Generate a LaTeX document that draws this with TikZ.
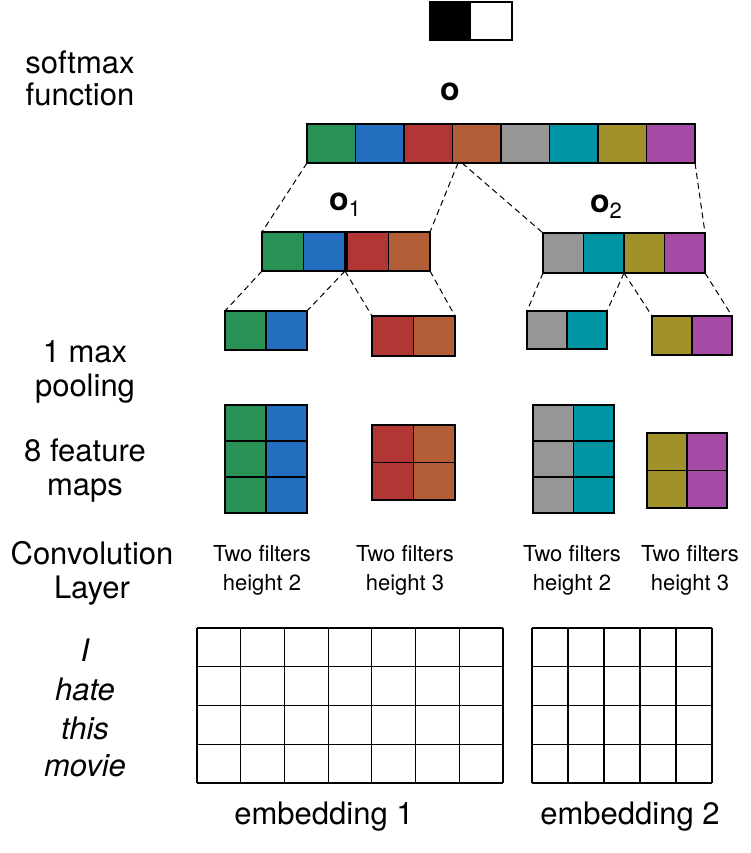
\documentclass[tikz,border=0pt]{standalone}
\usepackage{fontspec}
\setmainfont{TeX Gyre Heros}
\definecolor{cg}{RGB}{40,145,85}
\definecolor{cb}{RGB}{35,110,190}
\definecolor{cr}{RGB}{178,55,52}
\definecolor{co}{RGB}{178,95,55}
\definecolor{cy}{RGB}{150,150,150}
\definecolor{ct}{RGB}{0,148,165}
\definecolor{cl}{RGB}{160,145,42}
\definecolor{cp}{RGB}{165,75,165}
\begin{document}
\begin{tikzpicture}[x=1pt,y=-1pt,
  cell/.style={draw=black,line width=1.2pt},
  dashln/.style={line width=1pt,dash pattern=on 6pt off 4pt},
  lab/.style={font=\fontsize{31}{36}\selectfont,align=center},
  flab/.style={font=\fontsize{22}{29}\selectfont,align=center},
  it/.style={font=\fontsize{31}{36}\selectfont\itshape},
  bo/.style={font=\fontsize{32}{36}\selectfont\bfseries}]
\useasboundingbox (0,0) rectangle (751,853);
% softmax
\fill[black] (430,2) rectangle (471,40);
\draw[cell] (430,2) rectangle (512,40);
\node[lab] (sm) at (80,78) {softmax\\[-4pt]function};
\node[bo] (o) at (450,92) {o};
% big row
\foreach \c [count=\i from 0] in {cg,cb,cr,co,cy,ct,cl,cp}
  \draw[cell,fill=\c] (307+\i*48.5,124) rectangle (355.5+\i*48.5,163);
\coordinate (oL) at (307,163); \coordinate (oM1) at (458,163);
\coordinate (oM2) at (462,163); \coordinate (oR) at (695,163);
% o1
\node[bo] (o1) at (345,205) {o\textmd{\fontsize{22}{24}\selectfont\raisebox{-6pt}{1}}};
\foreach \c/\a in {cg/262,cb/303.5,cr/347,co/388.5}
  \draw[cell,fill=\c] (\a,232) rectangle (\a+41.5,271);
\coordinate (aL) at (262,232); \coordinate (aR) at (430,232);
% o2
\node[bo] (o2) at (606,207) {o\textmd{\fontsize{22}{24}\selectfont\raisebox{-6pt}{2}}};
\foreach \c [count=\i from 0] in {cy,ct,cl,cp}
  \draw[cell,fill=\c] (543+\i*40.5,233) rectangle (583.5+\i*40.5,273);
\coordinate (bL) at (543,233); \coordinate (bR) at (705,233);
\draw[dashln] (oL)--(aL); \draw[dashln] (oM1)--(aR);
\draw[dashln] (oM2)--(bL); \draw[dashln] (oR)--(bR);
% level 3
\coordinate (a1) at (262,271); \coordinate (a2) at (345,271); \coordinate (a3) at (430,271);
\coordinate (b1) at (543,273); \coordinate (b2) at (624,273); \coordinate (b3) at (705,273);
\draw[cell,fill=cg] (225,311) rectangle (266,350); \draw[cell,fill=cb] (266,311) rectangle (307,350);
\draw[cell,fill=cr] (372,316) rectangle (413.5,356); \draw[cell,fill=co] (413.5,316) rectangle (455,356);
\draw[cell,fill=cy] (527,311) rectangle (567,349); \draw[cell,fill=ct] (567,311) rectangle (607,349);
\draw[cell,fill=cl] (652,316) rectangle (692,355); \draw[cell,fill=cp] (692,316) rectangle (732,355);
\coordinate (p1) at (225,311); \coordinate (p2) at (307,311); \coordinate (p3) at (372,316); \coordinate (p4) at (455,316);
\coordinate (q1) at (527,311); \coordinate (q2) at (607,311); \coordinate (q3) at (652,316); \coordinate (q4) at (732,316);
\draw[dashln] (a1)--(p1); \draw[dashln] (a2)--(p2); \draw[dashln] (a2)--(p3); \draw[dashln] (a3)--(p4);
\draw[dashln] (b1)--(q1); \draw[dashln] (b2)--(q2); \draw[dashln] (b2)--(q3); \draw[dashln] (b3)--(q4);
% feature maps
\foreach \r in {0,1,2}{
  \draw[cell,fill=cg] (225,405+\r*36) rectangle (266,441+\r*36);
  \draw[cell,fill=cb] (266,405+\r*36) rectangle (307,441+\r*36);
  \draw[cell,fill=cy] (533,405+\r*36) rectangle (573.5,441+\r*36);
  \draw[cell,fill=ct] (573.5,405+\r*36) rectangle (614,441+\r*36);}
\foreach \r in {0,1}{
  \draw[cell,fill=cr] (372,425+\r*37.5) rectangle (413.5,462.5+\r*37.5);
  \draw[cell,fill=co] (413.5,425+\r*37.5) rectangle (455,462.5+\r*37.5);
  \draw[cell,fill=cl] (647,433+\r*37.5) rectangle (687,470.5+\r*37.5);
  \draw[cell,fill=cp] (687,433+\r*37.5) rectangle (727,470.5+\r*37.5);}
% labels
\node[lab] (mp) at (85,372) {1 max\\[-2pt]pooling};
\node[lab] (fm) at (85,471) {8 feature\\[-2pt]maps};
\node[lab] (cl) at (92,573) {Convolution\\[-2pt]Layer};
\node[flab] (f1) at (262,570) {Two filters\\height 2};
\node[flab] (f2) at (405,570) {Two filters\\height 3};
\node[flab] (f3) at (572,570) {Two filters\\height 2};
\node[flab] (f4) at (690,570) {Two filters\\height 3};
% embeddings
\foreach \r in {0,...,4} \draw[line width=1.2pt] (197,628+\r*38.75)--(503,628+\r*38.75);
\foreach \c in {0,...,7} \draw[line width=1.2pt] (197+\c*43.714,628)--(197+\c*43.714,783);
\foreach \r in {0,...,4} \draw[line width=1.2pt] (532,628+\r*38.75)--(712,628+\r*38.75);
\foreach \c in {0,...,5} \draw[line width=1.2pt] (532+\c*36,628)--(532+\c*36,783);
\node[it] (w1) at (85,650) {I};
\node[it] (w2) at (85,689) {hate};
\node[it] (w3) at (85,728) {this};
\node[it] (w4) at (85,766) {movie};
\node[lab] (e1) at (324,817) {embedding 1};
\node[lab] (e2) at (630,817) {embedding 2};
\end{tikzpicture}
\end{document}
